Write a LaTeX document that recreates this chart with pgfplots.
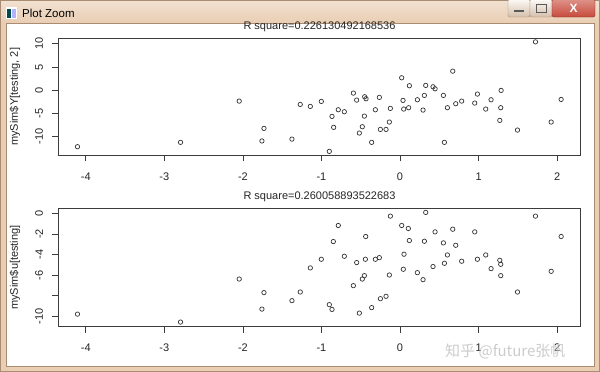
\documentclass[border=0pt]{standalone}
\usepackage{pgfplots}
\pgfplotsset{compat=1.18}
\usepackage{fontspec}
\setmainfont{Liberation Sans}
\newfontfamily\cjk{Noto Sans CJK SC}
\definecolor{winframe}{RGB}{233,206,180}
\definecolor{winedge}{RGB}{170,140,115}
\definecolor{closered}{RGB}{200,75,60}
\definecolor{axcol}{RGB}{60,60,60}

\pgfplotstableread{
x y
-4.106 -12.24
-2.794 -11.3
-2.047 -2.38
-1.732 -8.28
-1.758 -11.0
-1.376 -10.6
-1.270 -3.10
-1.142 -3.53
-1.002 -2.45
-0.900 -13.25
-0.866 -5.69
-0.845 -8.06
-0.786 -4.25
-0.709 -4.68
-0.594 -0.65
-0.552 -2.16
-0.518 -9.29
-0.480 -7.92
-0.454 -5.62
-0.450 -1.44
-0.433 -1.87
-0.361 -11.3
-0.314 -4.25
-0.263 -1.58
-0.250 -8.50
-0.178 -8.50
-0.136 -6.91
-0.123 -3.96
0.021 2.66
0.038 -2.23
0.047 -4.10
0.110 -3.81
0.119 0.94
0.221 -2.09
0.293 -4.32
0.310 -1.15
0.327 1.01
0.420 0.72
0.446 0.29
0.552 -1.15
0.565 -11.3
0.603 -3.81
0.671 4.10
0.709 -2.95
0.785 -2.38
0.951 -2.81
0.985 -0.86
1.091 -4.10
1.159 -2.09
1.270 -6.55
1.282 -3.81
1.287 -0.07
1.495 -8.64
1.724 10.43
1.924 -6.91
2.051 -2.02
}\topdata

\pgfplotstableread{
x y
-4.106 -9.78
-2.794 -10.55
-2.047 -6.37
-1.732 -7.69
-1.758 -9.29
-1.376 -8.47
-1.270 -7.63
-1.142 -5.29
-1.002 -4.45
-0.900 -8.86
-0.866 -9.32
-0.849 -2.73
-0.786 -1.17
-0.709 -4.16
-0.594 -7.01
-0.552 -4.77
-0.518 -9.68
-0.480 -6.37
-0.454 -6.04
-0.437 -2.24
-0.441 -4.45
-0.361 -9.15
-0.314 -4.45
-0.263 -4.29
-0.250 -8.28
-0.178 -8.05
-0.136 -5.98
-0.123 -0.26
0.021 -1.17
0.042 -5.42
0.051 -3.96
0.106 -1.46
0.119 -2.63
0.221 -5.75
0.293 -6.43
0.310 -2.70
0.327 0.10
0.420 -5.16
0.446 -1.79
0.552 -2.86
0.565 -4.84
0.603 -4.03
0.671 -1.53
0.709 -3.09
0.785 -4.64
0.951 -1.79
0.985 -4.45
1.091 -4.03
1.159 -5.36
1.270 -4.55
1.282 -4.94
1.282 -6.04
1.495 -7.63
1.724 -0.26
1.924 -5.62
2.051 -2.24
}\botdata

\pgfplotsset{
  rstyle/.style={
    scale only axis,
    width=522.4pt,
    xmin=-4.35, xmax=2.30,
    axis line style={axcol, line width=0.8pt},
    tick style={axcol, line width=0.8pt},
    tick align=outside,
    major tick length=6pt,
    xtick pos=bottom, ytick pos=left,
    xtick={-4,-3,-2,-1,0,1,2},
    xticklabels={-4,-3,-2,-1,0,1,2},
    tick label style={font=\fontsize{11}{13}\selectfont, text=black!85},
    xticklabel style={anchor=north, inner sep=0pt},
    xticklabel shift=11pt,
    yticklabel style={rotate=90, anchor=south, inner sep=0pt},
    yticklabel shift=9pt,
    label style={font=\fontsize{11}{13}\selectfont, text=black!85},
    ylabel style={at={(axis description cs:-0.0829,0.5)}, anchor=center, rotate=0},
    title style={font=\fontsize{11}{13}\selectfont, text=black!85, at={(axis description cs:0.5,1)}, anchor=base, yshift=2.5pt, inner sep=0pt},
  },
  rpts/.style={only marks, mark=o, mark size=2.2pt, draw=black!80, mark options={solid, draw=black!80, fill=none, line width=0.7pt}},
}

\begin{document}
\begin{tikzpicture}[x=1pt,y=1pt]
\useasboundingbox (0,0) rectangle (600,-372);
% window frame
\fill[winframe] (0,0) rectangle (600,-372);
\shade[top color=winframe!60!white, bottom color=winframe] (0,0) rectangle (600,-22);
\draw[winedge, line width=0.8pt] (0.4,-0.4) rectangle (599.6,-371.6);
\fill[white] (6,-23) rectangle (594,-366);
\draw[winedge, line width=0.6pt] (6,-23) rectangle (594,-366);
% icon
\fill[white] (6,-7) rectangle (17,-19);
\fill[teal!60!black] (7,-9) rectangle (11,-18);
\fill[blue!30] (11.5,-9) rectangle (16,-18);
\node[anchor=base west, inner sep=0pt, font=\fontsize{11.5}{13}\selectfont] at (22,-17) {Plot Zoom};
% buttons
\shade[top color=white!90!winframe, bottom color=winframe!80!gray, draw=winedge, rounded corners=2pt] (508,1) rectangle (530,-17);
\draw[gray!70!black, line width=1.6pt] (514,-11) -- (524,-11);
\shade[top color=white!90!winframe, bottom color=winframe!80!gray, draw=winedge, rounded corners=2pt] (530,1) rectangle (552,-17);
\draw[gray!70!black, line width=0.8pt] (536,-4) rectangle (546,-12);
\draw[gray!70!black, line width=1.4pt] (536,-4.5) -- (546,-4.5);
\shade[top color=closered!60!white, bottom color=closered, draw=closered!60!black, rounded corners=2pt] (552,1) rectangle (595,-17);
\node[text=white, font=\bfseries\fontsize{12}{12}\selectfont] at (573.5,-8) {X};

% top axis
\begin{axis}[rstyle,
  at={(58.3pt,-38.3pt)}, anchor=north west,
  height=117pt,
  ymin=-14.1, ymax=11.2,
  ytick={-10,-5,0,5,10},
  yticklabels={-10,-5,0,5,10},
  ylabel={mySim\$Y[testing, 2]},
  title={R square=0.226130492168536},
]
\addplot[rpts] table[x=x,y=y] {\topdata};
\end{axis}

% bottom axis
\begin{axis}[rstyle,
  at={(58.3pt,-208.3pt)}, anchor=north west,
  height=118.4pt,
  ymin=-11.0, ymax=0.5,
  ytick={-10,-8,-6,-4,-2,0},
  yticklabels={-10,,-6,-4,-2,0},
  ylabel={mySim\$u[testing]},
  title={R square=0.260058893522683},
]
\addplot[rpts] table[x=x,y=y] {\botdata};
\end{axis}

% watermark
\node[anchor=west, inner sep=0pt, text=gray!40, font=\cjk\fontsize{15}{16}\selectfont] at (445,-351) {知乎 @future张帆};
\end{tikzpicture}
\end{document}
